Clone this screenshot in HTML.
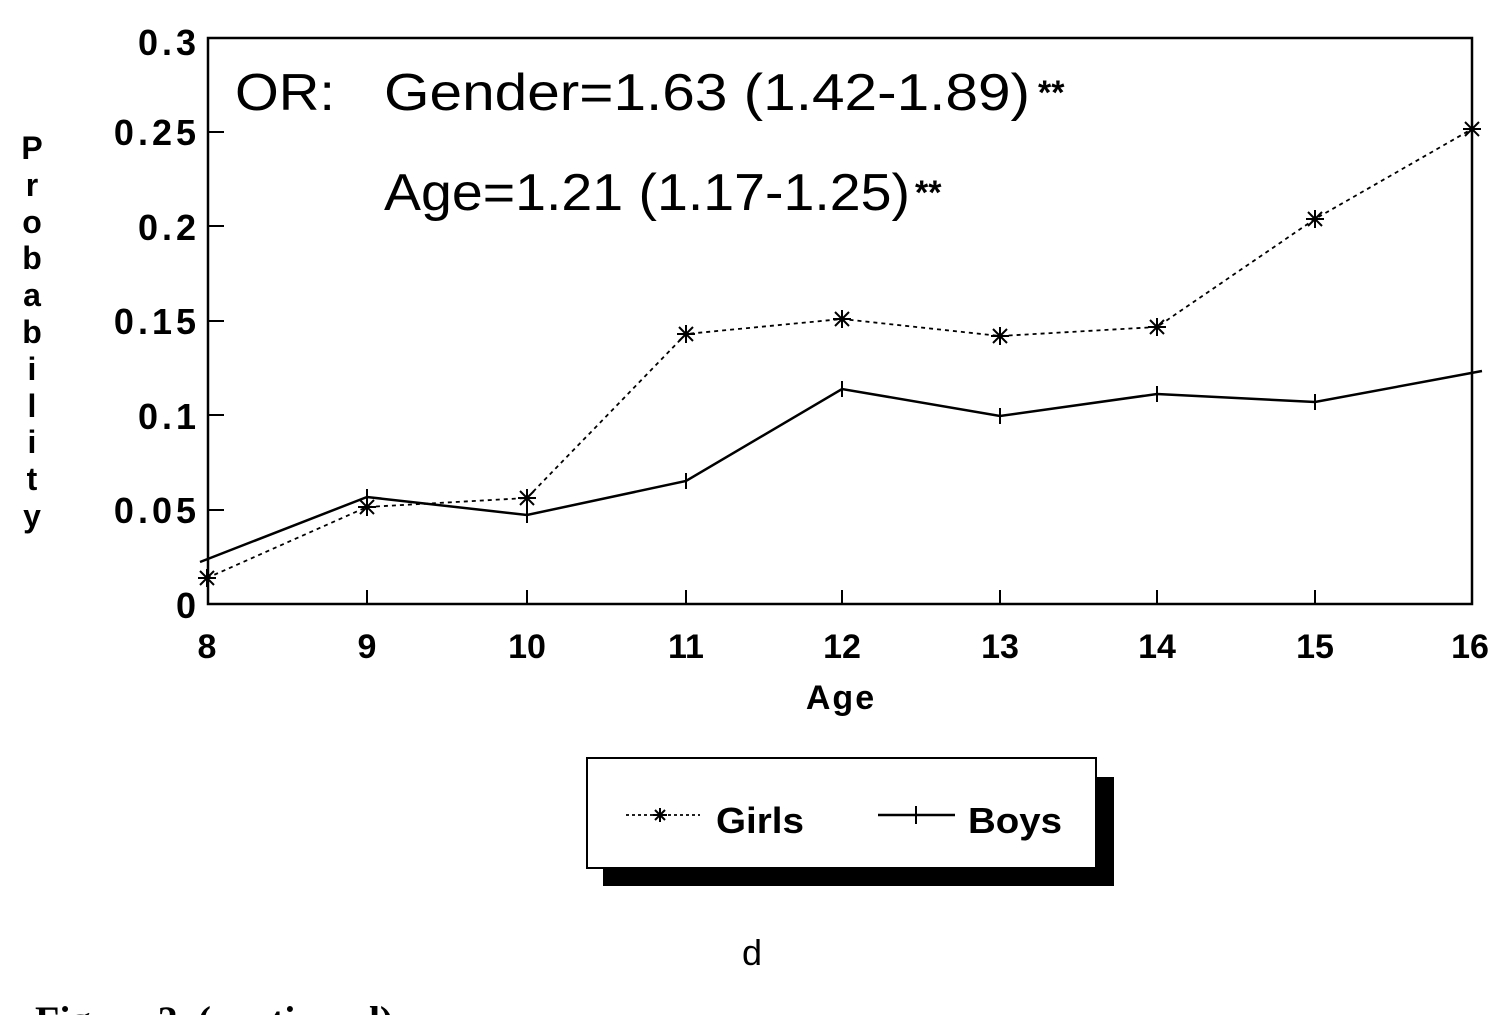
<!DOCTYPE html>
<html><head><style>body{margin:0;background:#fff}</style></head><body>
<svg width="1511" height="1015" xmlns="http://www.w3.org/2000/svg" font-family="Liberation Sans, sans-serif">
<rect width="1511" height="1015" fill="#fff"/>
<rect x="208" y="38" width="1264" height="566" fill="none" stroke="#000" stroke-width="2.5"/>
<g stroke="#000" stroke-width="2">
<line x1="208" y1="132" x2="224" y2="132"/><line x1="208" y1="226" x2="224" y2="226"/><line x1="208" y1="321" x2="224" y2="321"/><line x1="208" y1="415" x2="224" y2="415"/><line x1="208" y1="510" x2="224" y2="510"/>
<line x1="367" y1="604" x2="367" y2="590"/><line x1="527" y1="604" x2="527" y2="590"/><line x1="686" y1="604" x2="686" y2="590"/><line x1="842" y1="604" x2="842" y2="590"/><line x1="1000" y1="604" x2="1000" y2="590"/><line x1="1157" y1="604" x2="1157" y2="590"/><line x1="1315" y1="604" x2="1315" y2="590"/>
</g>
<g font-size="36" font-weight="bold" text-anchor="end" letter-spacing="4">
<text x="200" y="55">0.3</text><text x="200" y="145">0.25</text><text x="200" y="240">0.2</text><text x="200" y="334">0.15</text><text x="200" y="429">0.1</text><text x="200" y="523">0.05</text><text x="200" y="618">0</text>
</g>
<g font-size="34" font-weight="bold" text-anchor="middle">
<text x="207" y="658">8</text><text x="367" y="658">9</text><text x="527" y="658">10</text><text x="686" y="658">11</text><text x="842" y="658">12</text><text x="1000" y="658">13</text><text x="1157" y="658">14</text><text x="1315" y="658">15</text><text x="1470" y="658">16</text>
<text x="841" y="709" letter-spacing="2">Age</text>
</g>
<g font-size="32" font-weight="bold" text-anchor="middle">
<text x="32" y="159">P</text><text x="32" y="196">r</text><text x="32" y="233">o</text><text x="32" y="269">b</text><text x="32" y="306">a</text><text x="32" y="343">b</text><text x="32" y="380">i</text><text x="32" y="417">l</text><text x="32" y="453">i</text><text x="32" y="490">t</text><text x="32" y="527">y</text>
</g>
<g font-size="52">
<text x="235" y="110" textLength="100" lengthAdjust="spacingAndGlyphs">OR:</text>
<text x="384" y="110" textLength="646" lengthAdjust="spacingAndGlyphs">Gender=1.63 (1.42-1.89)</text>
<text x="1038" y="104" font-size="34" font-weight="bold">**</text>
<text x="384" y="210" textLength="526" lengthAdjust="spacingAndGlyphs">Age=1.21 (1.17-1.25)</text>
<text x="915" y="204" font-size="34" font-weight="bold">**</text>
</g>
<polyline fill="none" stroke="#000" stroke-width="1.8" stroke-dasharray="4,4" points="207,578 367,507 527,498 686,334 842,319 1000,336 1157,327 1315,219 1472,129"/>
<polyline fill="none" stroke="#000" stroke-width="2.5" points="200,562 367,497 527,515 686,481 842,389 1000,416 1157,394 1315,402 1482,371"/>
<g stroke="#000" stroke-width="2" fill="none">
<path d="M198 578h18M207 569v18M200 571l14 14M200 585l14-14"/>
<path d="M358 507h18M367 498v18M360 500l14 14M360 514l14-14"/>
<path d="M518 498h18M527 489v18M520 491l14 14M520 505l14-14"/>
<path d="M677 334h18M686 325v18M679 327l14 14M679 341l14-14"/>
<path d="M833 319h18M842 310v18M835 312l14 14M835 326l14-14"/>
<path d="M991 336h18M1000 327v18M993 329l14 14M993 343l14-14"/>
<path d="M1148 327h18M1157 318v18M1150 320l14 14M1150 334l14-14"/>
<path d="M1306 219h18M1315 210v18M1308 212l14 14M1308 226l14-14"/>
<path d="M1463 129h18M1472 120v18M1465 122l14 14M1465 136l14-14"/>
<path d="M367 489v16M527 507v16M686 473v16M842 381v16M1000 408v16M1157 386v16M1315 394v16"/>
</g>
<rect x="603" y="777" width="511" height="109" fill="#000"/>
<rect x="587" y="758" width="509" height="110" fill="#fff" stroke="#000" stroke-width="2"/>
<line x1="626" y1="815" x2="700" y2="815" stroke="#000" stroke-width="1.8" stroke-dasharray="3,3"/>
<path d="M653 815h14M660 808v14M655 810l10 10M655 820l10-10" stroke="#000" stroke-width="2"/>
<text x="716" y="833" font-size="36" font-weight="bold" textLength="88" lengthAdjust="spacingAndGlyphs">Girls</text>
<line x1="878" y1="815" x2="955" y2="815" stroke="#000" stroke-width="2.5"/>
<line x1="916" y1="806" x2="916" y2="824" stroke="#000" stroke-width="2"/>
<text x="968" y="833" font-size="36" font-weight="bold" textLength="94" lengthAdjust="spacingAndGlyphs">Boys</text>
<text x="752" y="965" font-size="36" text-anchor="middle">d</text>
<text x="35" y="1034" font-size="40" font-weight="bold" font-family="Liberation Serif, serif">Figure 2. (continued)</text>
</svg>
</body></html>
